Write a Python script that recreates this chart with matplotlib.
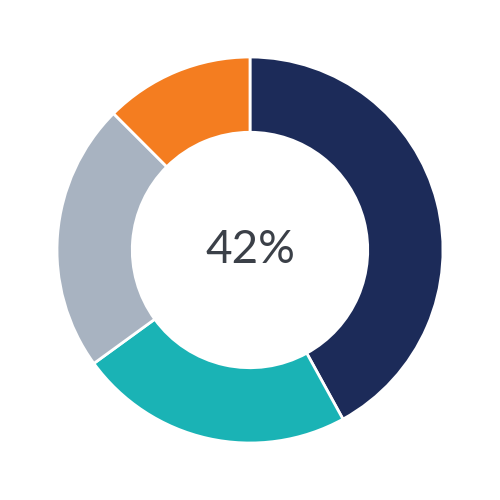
import matplotlib.pyplot as plt

labels = ["A", "B", "C", "D"]
values = [42, 23, 22.5, 12.5]
colors = ["#1c2b59", "#1ab3b5", "#a8b3c1", "#f47d20"]
center_text = "42%"

fig = plt.figure(figsize=(5, 5), dpi=100)
ax = fig.add_axes([0, 0, 1, 1])
ax.pie(values, colors=colors, startangle=90, counterclock=False,
       radius=1, wedgeprops=dict(width=0.39, edgecolor="white", linewidth=2))
ax.text(0, 0, center_text, ha="center", va="center", fontsize=33,
        family="Lato", fontweight="normal", color="#3b4048")
lim = 250 / 193
ax.set_xlim(-lim, lim)
ax.set_ylim(-lim, lim)
ax.set_aspect("equal")
ax.axis("off")
fig.savefig("out.png")
plt.close(fig)
